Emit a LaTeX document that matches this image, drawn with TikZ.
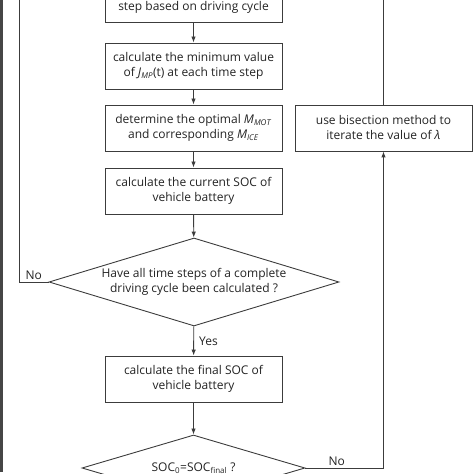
\documentclass[tikz,border=0pt]{standalone}
\usepackage{fontspec}
\setmainfont{Open Sans}
\usetikzlibrary{arrows.meta, shapes.geometric}
\definecolor{linegray}{RGB}{60,60,60}
\definecolor{textgray}{RGB}{35,35,35}

\begin{document}
\begin{tikzpicture}[x=1pt, y=1pt,
    box/.style={draw=linegray, line width=0.9pt, minimum width=177pt, minimum height=46pt, inner sep=2pt, align=center, text=textgray, font=\fontsize{12}{15}\selectfont},
    decision/.style={draw=linegray, line width=0.9pt, diamond, aspect=3.3, inner sep=0pt, align=center, text=textgray, font=\fontsize{12}{15}\selectfont},
    flow/.style={-{Latex[length=6pt, width=4.5pt]}, linegray, line width=0.9pt},
    link/.style={linegray, line width=0.9pt},
    tag/.style={text=textgray, font=\fontsize{12}{13}\selectfont, inner sep=2pt}]
    \useasboundingbox (0,0) rectangle (474,474);
    \clip (0,0) rectangle (474,474);

    % page edge
    \fill[gray!55!black] (0,2) rectangle (3,474);

    % main column
    \node[box] (init) at (193.5,475) {\strut\\step based on driving cycle};
    \node[box] (minval) at (193.5,408) {calculate the minimum value\\of \textit{J}\textsubscript{\textit{MP}}(t) at each time step};
    \node[box] (optimal) at (193.5,346) {determine the optimal \textit{M}\textsubscript{\textit{MOT}}\\and corresponding \textit{M}\textsubscript{\textit{ICE}}};
    \node[box] (cursoc) at (193.5,283) {calculate the current SOC of\\vehicle battery};
    \node[decision, minimum width=290pt, minimum height=88pt] (allsteps) at (194,192) {Have all time steps of a complete\\driving cycle been calculated ?};
    \node[box] (finalsoc) at (193.5,95) {calculate the final SOC of\\vehicle battery};
    \node[decision, minimum width=223pt, minimum height=66pt] (socequal) at (193.5,6) {SOC\textsubscript{0}=SOC\textsubscript{final} ?};

    % right column
    \node[box] (bisect) at (383.5,346) {use bisection method to\\iterate the value of \textit{λ}};

    \coordinate (loopleft) at (19,490);
    \coordinate (loopright) at (383.5,490);

    \draw[flow] (init) -- (minval);
    \draw[flow] (minval) -- (optimal);
    \draw[flow] (optimal) -- (cursoc);
    \draw[flow] (cursoc) -- (allsteps);
    \draw[flow] (allsteps) -- node[tag, right, xshift=3pt] {Yes} (finalsoc);
    \draw[flow] (finalsoc) -- (socequal);

    % loops back
    \draw[link] (allsteps.west) -- node[tag, above] {No} (allsteps.west -| loopleft) -- (loopleft);
    \draw[flow] (socequal.east) -- node[tag, above, pos=0.4] {No} (socequal.east -| bisect) -- (bisect);
    \draw[link] (bisect) -- (loopright);
\end{tikzpicture}
\end{document}
